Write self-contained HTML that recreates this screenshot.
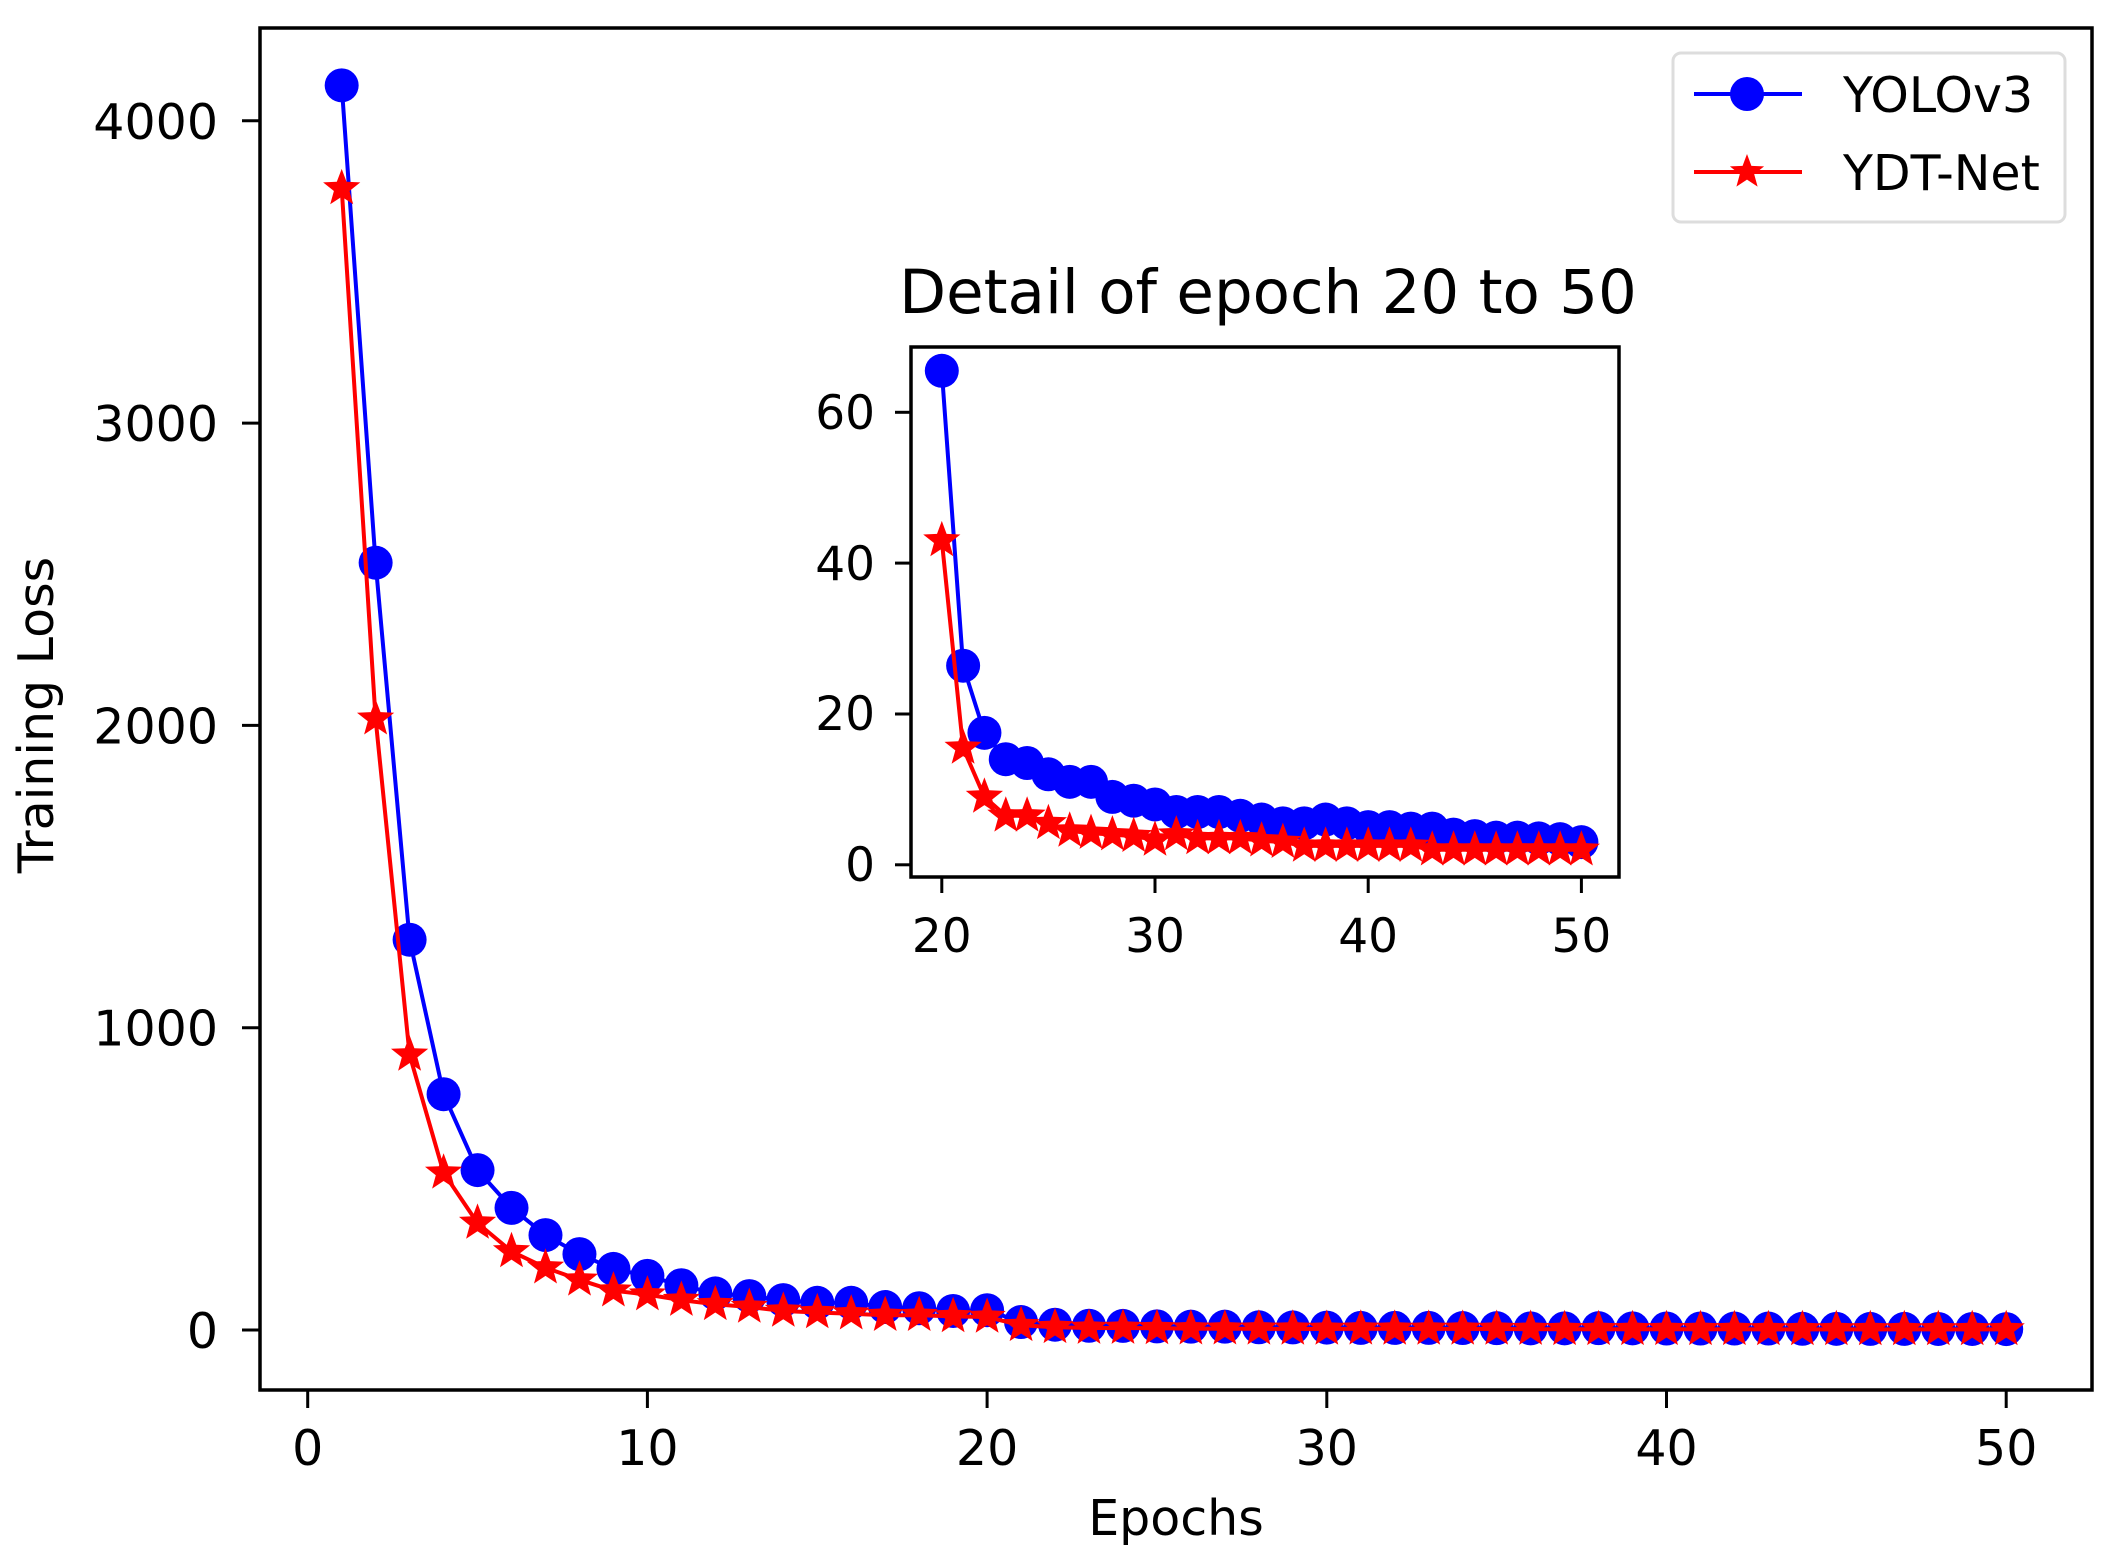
<!DOCTYPE html>
<html><head><meta charset="utf-8"><style>
html,body{margin:0;padding:0;background:#fff;}
svg{display:block;}
text{font-family:"DejaVu Sans","Liberation Sans",sans-serif;fill:#000;}
</style></head><body>
<svg id="s" width="2124" height="1568" viewBox="0 0 2124 1568" xmlns="http://www.w3.org/2000/svg">
<rect width="2124" height="1568" fill="#fff"/>
<g id="main"></g>
<rect x="260" y="28" width="1832" height="1362" fill="none" stroke="#000" stroke-width="3.5"/>
<g stroke="#000" stroke-width="3">
<line x1="307.7" y1="1390" x2="307.7" y2="1408"/><line x1="647.4" y1="1390" x2="647.4" y2="1408"/>
<line x1="987.1" y1="1390" x2="987.1" y2="1408"/><line x1="1326.8" y1="1390" x2="1326.8" y2="1408"/>
<line x1="1666.5" y1="1390" x2="1666.5" y2="1408"/><line x1="2006.2" y1="1390" x2="2006.2" y2="1408"/>
<line x1="242" y1="1330" x2="260" y2="1330"/><line x1="242" y1="1027.7" x2="260" y2="1027.7"/>
<line x1="242" y1="725.4" x2="260" y2="725.4"/><line x1="242" y1="423.1" x2="260" y2="423.1"/>
<line x1="242" y1="120.8" x2="260" y2="120.8"/>
</g>
<g font-size="49" text-anchor="middle">
<text x="307.7" y="1465">0</text><text x="647.4" y="1465">10</text><text x="987.1" y="1465">20</text>
<text x="1326.8" y="1465">30</text><text x="1666.5" y="1465">40</text><text x="2006.2" y="1465">50</text>
</g>
<g font-size="49" text-anchor="end">
<text x="218" y="1348">0</text><text x="218" y="1045.7">1000</text><text x="218" y="743.4">2000</text>
<text x="218" y="441.1">3000</text><text x="218" y="138.8">4000</text>
</g>
<text x="1176" y="1535" font-size="49" text-anchor="middle">Epochs</text>
<text transform="translate(53,715) rotate(-90)" font-size="49" text-anchor="middle">Training Loss</text>

<rect x="1673" y="53" width="392" height="169" rx="8" fill="#fff" stroke="#ddd" stroke-width="3"/>
<line x1="1694" y1="94" x2="1802" y2="94" stroke="#0000ff" stroke-width="4"/>
<circle cx="1747" cy="94" r="17" fill="#0000ff"/>
<line x1="1694" y1="172" x2="1802" y2="172" stroke="#ff0000" stroke-width="4"/>
<polygon id="legstar" fill="#ff0000"/>
<text x="1843" y="112" font-size="49">YOLOv3</text>
<text x="1843" y="190" font-size="49">YDT-Net</text>

<text x="1268" y="313" font-size="61" text-anchor="middle">Detail of epoch 20 to 50</text>
<rect x="911" y="347" width="708" height="530" fill="#fff"/>
<g id="inset"></g>
<rect x="911" y="347" width="708" height="530" fill="none" stroke="#000" stroke-width="3.5"/>
<g stroke="#000" stroke-width="3">
<line x1="941.8" y1="877" x2="941.8" y2="893"/><line x1="1155" y1="877" x2="1155" y2="893"/>
<line x1="1368.2" y1="877" x2="1368.2" y2="893"/><line x1="1581.4" y1="877" x2="1581.4" y2="893"/>
<line x1="895" y1="864.8" x2="911" y2="864.8"/><line x1="895" y1="714" x2="911" y2="714"/>
<line x1="895" y1="563.1" x2="911" y2="563.1"/><line x1="895" y1="412.3" x2="911" y2="412.3"/>
</g>
<g font-size="47" text-anchor="middle">
<text x="941.8" y="952">20</text><text x="1155" y="952">30</text><text x="1368.2" y="952">40</text><text x="1581.4" y="952">50</text>
</g>
<g font-size="47" text-anchor="end">
<text x="875" y="881">0</text><text x="875" y="730">20</text><text x="875" y="580">40</text><text x="875" y="429">60</text>
</g>
</svg>
<script>
var NS="http://www.w3.org/2000/svg";
var yolo=[4117,2538,1291,780,529,404,314,251,202,179,148,121,112,99,90,90,76,72,63,65.5,
26.4,17.5,14,13.5,12,11,11,9,8.5,8,7,7,7,6.5,6,5.5,5.5,6,5.5,5,5,4.8,4.8,4,3.8,3.6,3.6,3.5,3.4,3];
var ydt=[3776,2022,910,520,354,260,206,166,130,117,99,85,76,63,58,54,49,49,45,43,
15.5,9,6.5,6.5,5.5,4.5,4.2,4,3.8,3.3,4,3.5,3.5,3.5,3.2,3,2.5,2.5,2.5,2.5,2.5,2.5,2,2,2,2,2,2,2,2];
function star(cx,cy,R){var r=R*0.42,p=[];for(var i=0;i<10;i++){var a=-Math.PI/2+i*Math.PI/5,rr=i%2?r:R;p.push((cx+rr*Math.cos(a)).toFixed(1)+","+(cy+rr*Math.sin(a)).toFixed(1));}return p.join(" ");}
function el(n,a,g){var e=document.createElementNS(NS,n);for(var k in a)e.setAttribute(k,a[k]);g.appendChild(e);return e;}
function draw(g,xs,ys,data,start,col,isStar,r){
 var pts=[];for(var i=start;i<data.length;i++){pts.push(xs(i+1).toFixed(1)+","+ys(data[i]).toFixed(1));}
 el("polyline",{points:pts.join(" "),fill:"none",stroke:col,"stroke-width":4,"stroke-linejoin":"round"},g);
 for(var i=start;i<data.length;i++){var x=xs(i+1),y=ys(data[i]);
  if(isStar)el("polygon",{points:star(x,y,r*1.15),fill:col},g);else el("circle",{cx:x,cy:y,r:r,fill:col},g);}
}
var gm=document.getElementById("main");
var mx=function(e){return 307.7+e*33.97;},my=function(v){return 1330-v*0.30232;};
draw(gm,mx,my,yolo,0,"#0000ff",false,17);
draw(gm,mx,my,ydt,0,"#ff0000",true,17);
var gi=document.getElementById("inset");
var ix=function(e){return 941.8+(e-20)*21.32;},iy=function(v){return 864.8-v*7.542;};
draw(gi,ix,iy,yolo,19,"#0000ff",false,17);
draw(gi,ix,iy,ydt,19,"#ff0000",true,17);
document.getElementById("legstar").setAttribute("points",star(1747,172,18));
</script>
</body></html>
